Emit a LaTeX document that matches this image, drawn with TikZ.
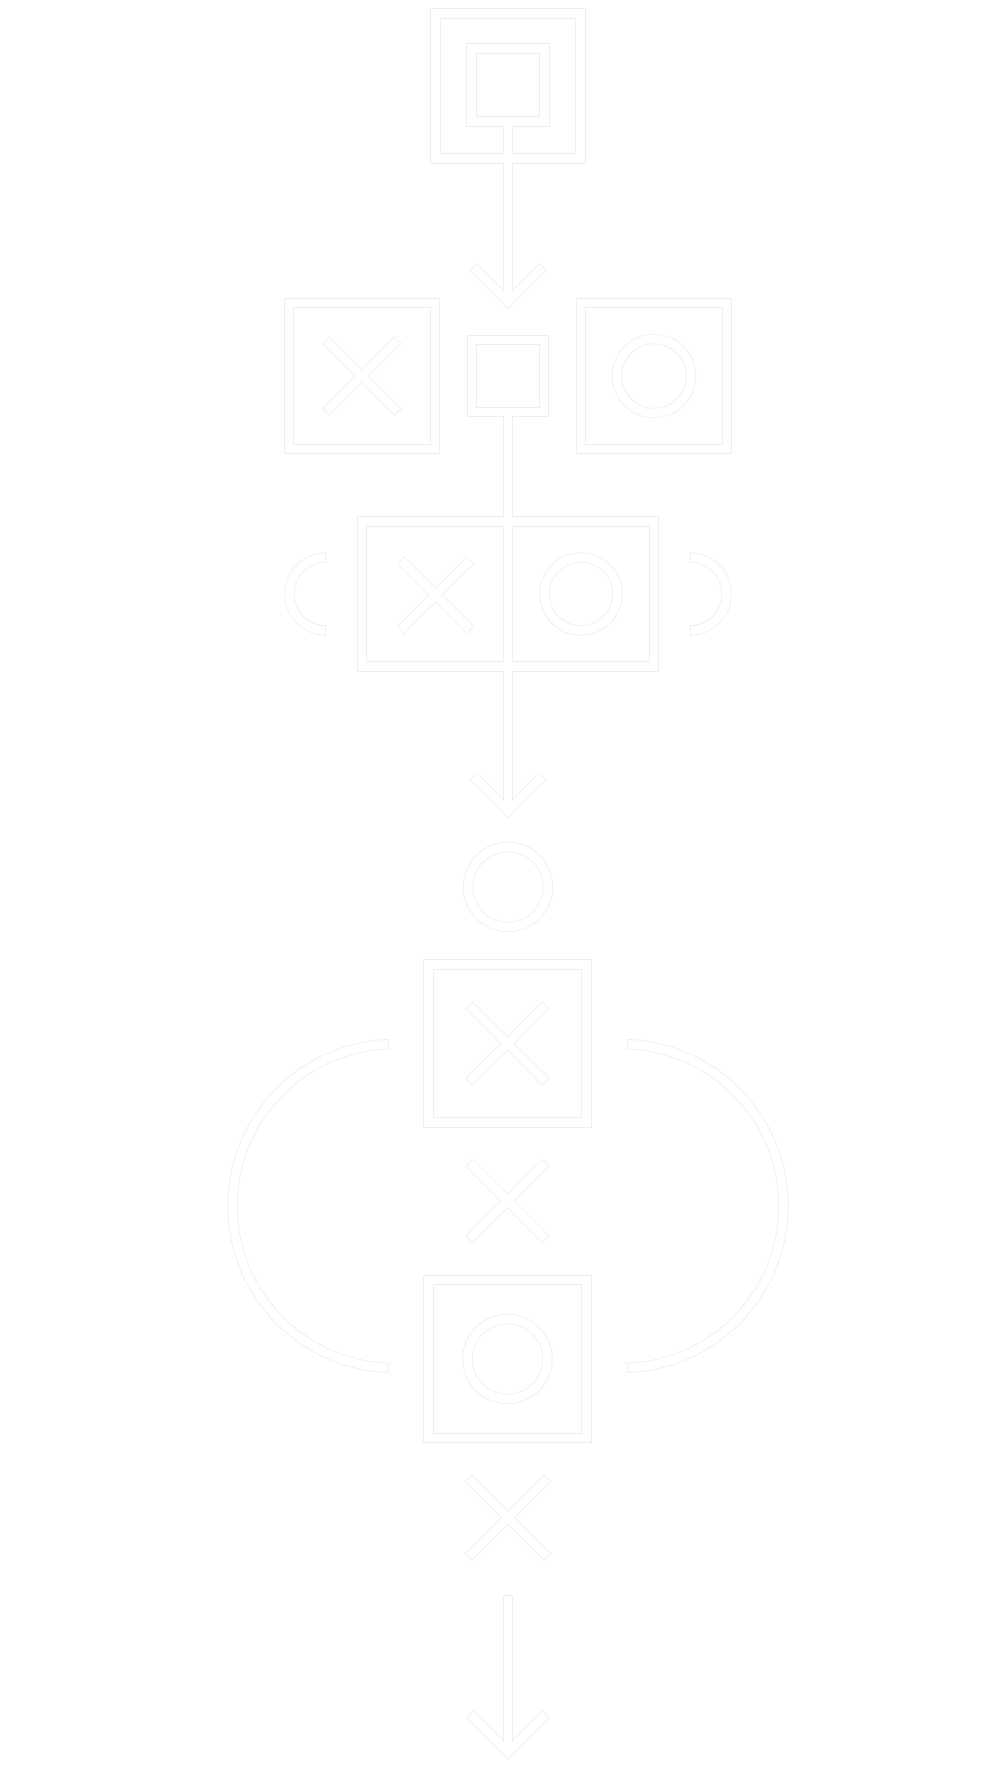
\documentclass[tikz,border=0pt]{standalone}
\usetikzlibrary{calc}
\definecolor{edgegray}{HTML}{EEEEEE}
\newcommand\glyphset{%
  % top icon: square in square with arrow
  \node[box,minimum size=145pt] (topOuter) at (508,86) {};
  \node[box,minimum size=73pt] (topInner) at (508,85) {};
  \coordinate (tipA) at (508,302);
  \draw[lo] (topInner.south) -- (tipA);
  \draw[lo] ($(tipA)+(-35,-35)$) -- (tipA) -- ($(tipA)+(35,-35)$);
  % row two
  \node[box,minimum size=146pt] (xBox) at (362,376) {};
  \node[box,minimum size=72pt] (midSq) at (508,376) {};
  \node[box,minimum size=146pt] (oBox) at (654,376) {};
  \draw[lo] ($(xBox.center)+(-36,-36)$) -- ($(xBox.center)+(36,36)$);
  \draw[lo] ($(xBox.center)+(-36,36)$) -- ($(xBox.center)+(36,-36)$);
  \draw[lc] (oBox.center) circle[radius=37];
  % pair box
  \node[box,minimum width=292pt,minimum height=145pt] (pair) at (508,594) {};
  \coordinate (tipB) at (508,811);
  \draw[lo] (midSq.south) -- (tipB);
  \draw[lo] ($(tipB)+(-35,-35)$) -- (tipB) -- ($(tipB)+(35,-35)$);
  \coordinate (pairX) at (435.5,595);
  \draw[lo] ($(pairX)+(-35,-35)$) -- ($(pairX)+(35,35)$);
  \draw[lo] ($(pairX)+(-35,35)$) -- ($(pairX)+(35,-35)$);
  \coordinate (pairO) at (581,594);
  \draw[lc] (pairO) circle[radius=36.5];
  \draw[lo] plot[domain=90:270,samples=61] ({326+36.5*cos(\x)},{594+36.5*sin(\x)});
  \draw[lo] plot[domain=-90:90,samples=61] ({690+36.5*cos(\x)},{594+36.5*sin(\x)});
  % ring
  \coordinate (ring) at (508,887);
  \draw[lc] (ring) circle[radius=40];
  % X box
  \node[box,minimum size=158pt] (boxX) at (507.5,1043.5) {};
  \draw[lo] ($(boxX.center)+(-38.5,-38.5)$) -- ($(boxX.center)+(38.5,38.5)$);
  \draw[lo] ($(boxX.center)+(-38.5,38.5)$) -- ($(boxX.center)+(38.5,-38.5)$);
  % middle X
  \coordinate (midX) at (507.5,1201);
  \draw[lo] ($(midX)+(-38.5,-38.5)$) -- ($(midX)+(38.5,38.5)$);
  \draw[lo] ($(midX)+(-38.5,38.5)$) -- ($(midX)+(38.5,-38.5)$);
  % O box
  \node[box,minimum size=158pt] (boxO) at (507.5,1359) {};
  \draw[lc] (boxO.center) circle[radius=40];
  % big arcs
  \draw[lo] plot[domain=92:268,samples=121] ({394.5+162*cos(\x)},{1206+162*sin(\x)});
  \draw[lo] plot[domain=-88:88,samples=121] ({621.5+162*cos(\x)},{1206+162*sin(\x)});
  % lower X
  \coordinate (lowX) at (508,1517.5);
  \draw[lo] ($(lowX)+(-39.5,-39.5)$) -- ($(lowX)+(39.5,39.5)$);
  \draw[lo] ($(lowX)+(-39.5,39.5)$) -- ($(lowX)+(39.5,-39.5)$);
  % bottom arrow
  \coordinate (arrowStart) at (508,1595);
  \coordinate (tipC) at (508,1752);
  \draw[lo] (arrowStart) -- (tipC);
  \draw[lo] ($(tipC)+(-38,-38)$) -- (tipC) -- ($(tipC)+(38,-38)$);
}
\begin{document}
\begin{tikzpicture}[x=1pt,y=-1pt,
  outerpass/.style={draw=edgegray,line width=10.2pt},
  innerpass/.style={draw=white,line width=8.6pt},
  box/.style={lc,rectangle,inner sep=0pt,outer sep=0pt,fill=none}]
\fill[white] (0,0) rectangle (1000,1778);
\useasboundingbox (0,0) rectangle (1000,1778);
% first pass: faint outlines
\tikzset{lc/.style={outerpass,line join=miter},
         lo/.style={outerpass,line join=miter}}
\glyphset
% second pass: white body of every stroke
\tikzset{lc/.style={innerpass,line join=miter},
         lo/.style={innerpass,line join=miter,shorten <=0.8pt,shorten >=0.8pt}}
\glyphset
\end{tikzpicture}
\end{document}
